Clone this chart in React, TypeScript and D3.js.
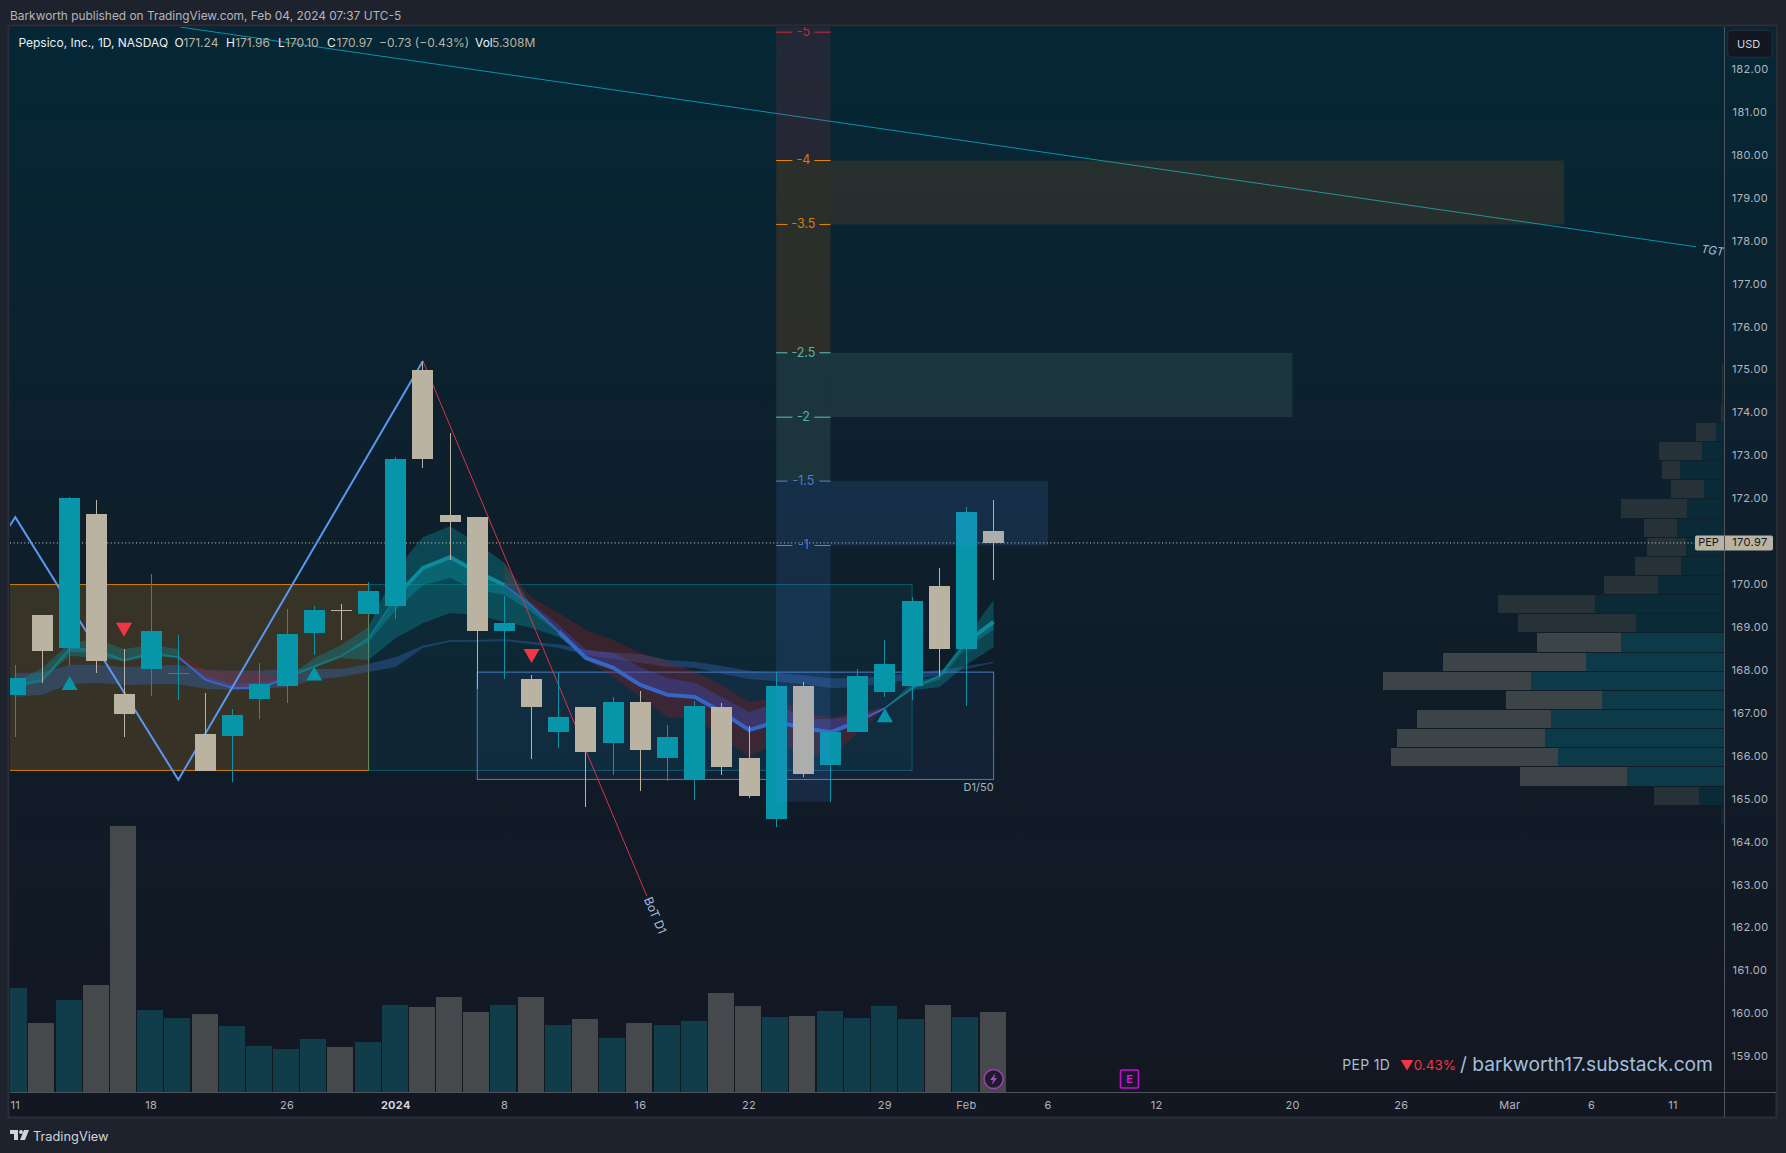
import React from 'react';
import * as d3 from 'd3';

// daily candles, Dec 11 2023 - Feb 2 2024
const opens = [167.43,169.29,168.52,171.64,167.45,168.03,167.93,166.52,166.47,167.33,167.64,168.87,169.40,169.31,169.50,175.00,171.62,171.57,168.92,167.80,166.56,167.15,166.31,167.26,165.96,165.45,167.15,165.96,164.54,167.64,165.80,166.56,167.50,167.64,169.97,168.50,171.24];
const highs = [168.13,169.29,172.04,171.97,168.50,170.25,168.82,167.47,167.10,168.17,169.43,169.50,169.55,170.06,172.97,175.21,173.53,171.57,169.73,167.89,167.96,167.15,167.38,167.52,166.73,167.29,167.24,166.70,167.96,167.73,166.56,168.03,168.71,169.71,170.39,171.81,171.96];
const lows = [166.45,167.71,168.13,167.94,166.45,167.40,167.31,165.66,165.40,166.87,167.24,168.36,168.71,169.31,169.20,172.71,170.57,167.57,167.80,165.93,166.19,164.82,165.56,165.19,165.42,164.98,165.56,165.03,164.35,165.52,164.93,166.56,167.38,167.31,167.87,167.17,170.10];
const closes = [167.82,168.45,172.02,168.22,166.98,168.92,167.94,165.66,166.96,167.68,168.85,169.41,169.39,169.85,172.92,172.92,171.46,168.92,169.10,167.15,166.91,166.10,167.26,166.14,166.45,167.17,165.75,165.07,167.64,165.59,166.56,167.87,168.15,169.62,168.50,171.69,170.97];
const volumes = [6.90,4.58,6.10,7.10,17.65,5.44,4.91,5.18,4.38,3.05,2.85,3.52,2.99,3.32,5.77,5.64,6.30,5.31,5.77,6.30,4.45,4.84,3.58,4.58,4.45,4.71,6.57,5.71,4.98,5.04,5.37,4.91,5.71,4.84,5.77,4.98,5.308];

// moving average ribbons
const slowTop = [167.94,167.95,168.13,168.13,168.08,168.10,168.13,168.01,167.99,167.99,168.03,168.03,168.03,168.15,168.31,168.58,168.71,168.71,168.73,168.67,168.61,168.48,168.41,168.38,168.24,168.20,168.10,167.99,167.94,167.89,167.82,167.82,167.87,167.94,168.01,168.10,168.20];
const slowBot = [167.38,167.43,167.68,167.71,167.66,167.68,167.68,167.57,167.54,167.57,167.61,167.78,167.85,167.96,168.08,168.52,168.66,168.67,168.68,168.61,168.52,168.36,168.27,168.17,168.08,168.06,167.92,167.80,167.75,167.68,167.59,167.61,167.71,167.78,167.89,168.03,168.17];
const fastLine = [167.66,167.78,168.52,168.48,168.24,168.41,168.31,167.78,167.59,167.59,167.82,168.10,168.34,168.755,169.71,170.39,170.64,170.29,169.99,169.50,168.90,168.29,168.06,167.66,167.43,167.38,167.03,166.61,166.80,166.66,166.56,166.80,167.12,167.59,167.87,168.66,169.13];
const n = null;
const bullTop = [167.71,168.06,168.64,168.73,168.50,168.59,168.50,n,n,n,167.82,168.29,168.59,169.01,170.34,171.11,171.36,170.97,170.50,169.50,168.90,168.29,n,n,n,n,n,n,n,n,n,n,167.12,167.71,167.89,168.78,169.64];
const bullBot = [167.61,167.78,168.34,168.29,168.22,168.36,168.29,n,n,n,167.82,168.06,168.29,168.24,168.755,169.10,169.34,169.29,169.13,168.99,168.78,168.29,n,n,n,n,n,n,n,n,n,n,167.12,167.54,167.61,168.13,168.54];
const bullInner = [167.61,167.73,168.43,168.41,168.20,168.34,168.29,n,n,n,167.82,168.06,168.34,168.66,169.41,169.99,170.15,169.87,169.76,169.36,168.87,168.29,n,n,n,n,n,n,n,n,n,n,167.12,167.57,167.78,168.54,168.94];
const bearTop = [n,n,n,n,n,n,168.36,168.01,167.96,167.94,167.82,n,n,n,n,n,n,n,170.50,169.69,169.34,168.94,168.71,168.41,168.20,167.96,167.66,167.26,167.38,167.03,166.91,167.03,167.15,n,n,n,n];
const bearBot = [n,n,n,n,n,n,168.29,167.75,167.54,167.66,167.82,n,n,n,n,n,n,n,169.99,169.50,168.90,168.24,167.85,167.38,166.91,166.89,166.45,165.98,166.31,166.08,165.98,166.54,167.12,n,n,n,n];
const bearInner = [n,n,n,n,n,n,168.31,167.87,167.68,167.73,167.82,n,n,n,n,n,n,n,169.99,169.57,169.06,168.48,168.41,168.08,167.82,167.71,167.38,167.03,167.24,166.87,166.87,166.96,167.12,n,n,n,n];

// signal markers on the chart
const markerBars = [4, 19, 2, 11, 32];
const markerPrices = [169.00, 168.39, 167.65, 167.87, 166.90];
const markerDown = [true, true, false, false, false];

// drawn lines as [bar, price] pairs
const zigzag: [number, number][] = [[-1, 170.6], [0, 171.57], [6, 165.45], [15, 175.21]];
const bearLine: [number, number][] = [[15, 175.21], [23.24, 162.74]];
const targetLine: [number, number][] = [[6.06, 182.99], [61.84, 177.87]];

// fib levels
const fibLabels = ['-1', '-1.5', '-2', '-2.5', '-3.5', '-4', '-5'];
const fibPrices = [170.91, 172.41, 173.90, 175.40, 178.39, 179.88, 182.87];
const fibColumnLow = 164.94;
const fibColumnHigh = 183.0;

// visible range volume, percent of the biggest row, lowest row first
const vpStart = 164.40;
const vpStep = 0.446;
const vpUp = [0.9,7.2,28.4,48.7,52.5,50.7,35.8,56.6,40.5,30.2,25.8,37.8,19.4,12.6,11.1,13.8,10.9,5.9,12.9,6.5,2.3,0.4,0.3,0.3];
const vpDown = [0,13.3,31.4,49.0,43.4,39.3,28.2,43.4,41.9,24.6,34.6,28.4,15.8,13.5,11.4,9.7,19.4,9.7,5.3,12.6,5.9,0.5,0.2,0.2];

const priceTicks = d3.range(159, 183);
const timeBars = [0, 5, 10, 14, 18, 23, 27, 32, 35, 38, 42, 47, 51, 55, 58, 61];
const timeLabels = ['11', '18', '26', '2024', '8', '16', '22', '29', 'Feb', '6', '12', '20', '26', 'Mar', '6', '11'];

const W = 1786;
const H = 1153;
const pane = { left: 10, top: 27, right: 1724, bottom: 1092 };
const FONT = 'Inter, "Noto Sans", sans-serif';

const TEAL = '#0795aa';
const BEIGE = '#bab3a1';
const LABEL = '#b2b5be';
const NOTE = '#a3bfd9';

const x = d3.scaleLinear().domain([0, 36]).range([15.3, 993.6]);
const y = d3.scaleLinear().domain([182, 159]).range([69.5, 1056.7]);
const volY = d3.scaleLinear().domain([0, 5.308]).range([pane.bottom, pane.bottom - 80]);
const vpX = d3.scaleLinear().domain([0, 100]).range([0, 341]);

const ribbon = (top: (number | null)[], bot: (number | null)[]) =>
  d3.area<number>()
    .defined((i) => top[i] != null && bot[i] != null)
    .x((i) => x(i))
    .y0((i) => y(bot[i] as number))
    .y1((i) => y(top[i] as number))(d3.range(37)) as string;

const pairLine = d3.line<[number, number]>().x((d) => x(d[0])).y((d) => y(d[1]));

// how the fast line is painted along its length
const fastStyles = [
  { from: 0, to: 6, color: '#0f7f8e', width: 1.2 },
  { from: 6, to: 10, color: '#3566c8', width: 2 },
  { from: 10, to: 14, color: '#0f7f8e', width: 1.2 },
  { from: 14, to: 18, color: '#0f8a9a', width: 4 },
  { from: 18, to: 20, color: '#2f62b8', width: 2 },
  { from: 20, to: 31, color: '#3566c8', width: 4 },
  { from: 31, to: 32, color: '#3566c8', width: 2 },
  { from: 32, to: 35, color: '#0f7f8e', width: 1.5 },
  { from: 35, to: 36, color: '#0f8a9a', width: 4 },
];

const BLUE_ZONE = 'rgba(80,150,255,0.13)';
const TEAL_ZONE = 'rgba(130,190,170,0.13)';
const ORANGE_COLUMN = 'rgba(255,120,10,0.14)';
const ORANGE_ZONE = 'rgba(255,130,20,0.12)';
const RED_ZONE = 'rgba(242,54,69,0.13)';

const fibStroke = (i: number) => {
  if (i < 2) return '#4d86d8';
  if (i < 4) return '#62c0ae';
  if (i < 6) return '#e68a00';
  return '#c9303f';
};

const legendParts = [
  { text: 'Pepsico, Inc., 1D, NASDAQ', at: 18.4, color: '#eceff4' },
  { text: 'O', at: 174.5, color: '#eceff4' },
  { text: '171.24', at: 183.5, color: BEIGE },
  { text: 'H', at: 226, color: '#eceff4' },
  { text: '171.96', at: 235.2, color: BEIGE },
  { text: 'L', at: 278, color: '#eceff4' },
  { text: '170.10', at: 285, color: BEIGE },
  { text: 'C', at: 327, color: '#eceff4' },
  { text: '170.97', at: 336.5, color: BEIGE },
  { text: '−0.73 (−0.43%)', at: 379, color: BEIGE },
  { text: 'Vol', at: 475, color: '#eceff4' },
  { text: '5.308M', at: 492, color: BEIGE },
];

const triangle = d3.symbol().type(d3.symbolTriangle).size(111)() as string;

export default function App() {
  const rect = (a: number, b: number, top: number, low: number) => ({
    x: x(a),
    y: y(top),
    width: x(b) - x(a),
    height: y(low) - y(top),
  });
  const last = y(closes[36]);
  const columnZones = [
    { top: fibPrices[1], low: fibColumnLow, fill: BLUE_ZONE },
    { top: fibPrices[3], low: fibPrices[1], fill: TEAL_ZONE },
    { top: fibPrices[5], low: fibPrices[3], fill: ORANGE_COLUMN },
    { top: fibColumnHigh, low: fibPrices[5], fill: RED_ZONE },
  ];

  return (
    <svg
      width={W}
      height={H}
      viewBox={`0 0 ${W} ${H}`}
      style={{ position: 'absolute', left: 0, top: 0, display: 'block' }}
      fontFamily={FONT}
    >
      <defs>
        <linearGradient id="paneBg" x1="0" y1="0" x2="0" y2="1">
          <stop offset="0" stopColor="#052735" />
          <stop offset="0.45" stopColor="#0e1f2c" />
          <stop offset="1" stopColor="#131722" />
        </linearGradient>
        <clipPath id="paneClip">
          <rect x={pane.left} y={pane.top} width={pane.right - pane.left} height={pane.bottom - pane.top} />
        </clipPath>
      </defs>

      <rect width={W} height={H} fill="#1e222d" />
      <rect x={8.5} y={25.5} width={1768} height={1092} fill="#131722" stroke="#2a2e39" strokeWidth={2} />
      <rect x={pane.left} y={pane.top} width={1766} height={pane.bottom - pane.top} fill="url(#paneBg)" />

      <text x={10} y={16.5} dominantBaseline="middle" fontSize={11.9} fill={LABEL}>
        Barkworth published on TradingView.com, Feb 04, 2024 07:37 UTC-5
      </text>

      <g clipPath="url(#paneClip)">
        {/* volume */}
        {volumes.map((v, i) => (
          <rect
            key={i}
            x={x(i) - 14}
            y={volY(v)}
            width={26}
            height={pane.bottom - volY(v)}
            fill={closes[i] >= opens[i] ? '#113d4a' : '#46494c'}
            shapeRendering="crispEdges"
          />
        ))}

        {/* visible range profile */}
        {vpUp.map((u, i) => {
          const top = y(vpStart + vpStep * (i + 1));
          const h = y(vpStart + vpStep * i) - top - 1;
          const bright = i >= 2 && i <= 9;
          return (
            <g key={i} shapeRendering="crispEdges">
              <rect
                x={pane.right - vpX(u)}
                y={top}
                width={vpX(u)}
                height={h}
                fill={bright ? '#0d3a48' : '#0b2a38'}
              />
              <rect
                x={pane.right - vpX(u + vpDown[i])}
                y={top}
                width={vpX(vpDown[i])}
                height={h}
                fill={bright ? '#3d4448' : '#263238'}
              />
            </g>
          );
        })}

        {/* boxes */}
        <rect {...rect(-1, 13, 170.0, 165.67)} fill="rgba(255,160,30,0.17)" stroke="#d77d0e" />
        <rect {...rect(13, 33, 170.0, 165.67)} fill="rgba(6,149,170,0.09)" stroke="rgba(10,147,168,0.5)" />
        <rect {...rect(17, 36, 167.96, 165.46)} fill="rgba(60,130,220,0.07)" stroke="#4a7dcc" />
        <text x={x(36)} y={y(165.46) + 9} textAnchor="end" dominantBaseline="middle" fontSize={11} fill="#a5b2c2">
          D1/50
        </text>

        {/* ribbons */}
        <path d={ribbon(slowTop, slowBot)} fill="rgba(50,105,180,0.38)" />
        <path d={ribbon(bearTop, bearBot)} fill="rgba(160,25,30,0.3)" />
        <path d={ribbon(bearInner, bearBot.map((v, i) => (v == null ? v : fastLine[i])))} fill="rgba(60,90,230,0.3)" />
        <path d={ribbon(bullTop, bullBot)} fill="rgba(8,150,160,0.34)" />
        <path d={ribbon(bullTop.map((v, i) => (v == null ? v : fastLine[i])), bullInner)} fill="rgba(8,160,175,0.34)" />
        {fastStyles.map((s, k) => (
          <path
            key={k}
            d={d3.line<number>().x((i) => x(i)).y((i) => y(fastLine[i]))(d3.range(s.from, s.to + 1)) as string}
            fill="none"
            stroke={s.color}
            strokeWidth={s.width}
          />
        ))}

        {/* last price */}
        <line x1={pane.left} x2={1695} y1={last} y2={last} stroke="#d3d4cb" strokeDasharray="1 2.6" />

        {/* drawn lines */}
        <path d={pairLine(zigzag) as string} fill="none" stroke="#5a97ee" strokeWidth={2} />
        <path d={pairLine(bearLine) as string} fill="none" stroke="#d8334a" strokeWidth={1} />
        <path d={pairLine(targetLine) as string} fill="none" stroke="#0a93a8" strokeWidth={1} />

        {/* candles */}
        {opens.map((o, i) => {
          const up = closes[i] >= o;
          const color = up ? TEAL : BEIGE;
          const top = y(Math.max(o, closes[i]));
          const bodyH = Math.max(1, y(Math.min(o, closes[i])) - top);
          return (
            <g key={i} shapeRendering="crispEdges">
              <line x1={x(i)} x2={x(i)} y1={y(highs[i])} y2={y(lows[i])} stroke={color} />
              <rect x={x(i) - 10.5} y={top} width={21} height={bodyH} fill={color} />
            </g>
          );
        })}

        {/* signals */}
        {markerBars.map((b, i) => (
          <path
            key={i}
            d={triangle}
            fill={markerDown[i] ? '#f23645' : TEAL}
            transform={`translate(${x(b)},${y(markerPrices[i])})${markerDown[i] ? ' rotate(180)' : ''}`}
          />
        ))}

        {/* fib column and zones sit over the candles */}
        {columnZones.map((z, i) => (
          <rect key={i} {...rect(28, 30, z.top, z.low)} fill={z.fill} />
        ))}
        <rect {...rect(30, 38, fibPrices[1], fibPrices[0])} fill={BLUE_ZONE} />
        <rect {...rect(30, 47, fibPrices[3], fibPrices[2])} fill={TEAL_ZONE} />
        <rect {...rect(30, 57, fibPrices[5], fibPrices[4])} fill={ORANGE_ZONE} />
        {fibLabels.map((label, i) => {
          const mid = (x(28) + x(30)) / 2;
          const gap = label.length > 2 ? 16 : 11;
          return (
            <g key={label}>
              <line x1={x(28)} x2={mid - gap} y1={y(fibPrices[i])} y2={y(fibPrices[i])} stroke={fibStroke(i)} />
              <line x1={mid + gap} x2={x(30)} y1={y(fibPrices[i])} y2={y(fibPrices[i])} stroke={fibStroke(i)} />
              <text x={mid} y={y(fibPrices[i]) + 0.5} textAnchor="middle" dominantBaseline="middle" fontSize={12.5} fill={fibStroke(i)} opacity={0.9}>
                {label}
              </text>
            </g>
          );
        })}

        {/* notes */}
        <text
          transform={`translate(${x(61.84) + 5},${y(177.87) + 6}) rotate(8)`}
          fontSize={11.5}
          fontStyle="italic"
          fill={NOTE}
        >
          TGT
        </text>
        <text
          transform={`translate(${x(23.24) - 3},${y(162.74) + 3}) rotate(67)`}
          fontSize={12}
          fill={NOTE}
        >
          BoT D1
        </text>
      </g>

      {/* legend */}
      {legendParts.map((p) => (
        <text key={p.at} x={p.at} y={43.7} dominantBaseline="middle" fontSize={12} fill={p.color}>
          {p.text}
        </text>
      ))}

      {/* event flags */}
      <g transform={`translate(${x(36)},1079)`}>
        <circle r={9.5} fill="#1f1a2e" stroke="#9c3fb5" strokeWidth={1.5} />
        <path d="M2 -6 L-3.5 1 H-0.5 L-2 6 L3.5 -1 H0.5 Z" fill="#a64dc4" />
      </g>
      <g transform={`translate(${x(41)},1079)`}>
        <rect x={-9} y={-9} width={18} height={18} rx={1} fill="#1d1530" stroke="#c010d0" strokeWidth={1.5} />
        <text textAnchor="middle" dominantBaseline="central" fontSize={11} fontWeight={600} fill="#d020e0">E</text>
      </g>

      {/* watermark */}
      <text x={1342.3} y={1066} dominantBaseline="middle" fontSize={14} letterSpacing={0.3} fill={NOTE}>PEP 1D</text>
      <text x={1400} y={1066} dominantBaseline="middle" fontSize={13.5} fill="#f23645">▼0.43%</text>
      <text x={1460} y={1066} dominantBaseline="middle" fontSize={19.2} fill={NOTE}>/ barkworth17.substack.com</text>

      {/* price axis */}
      <line x1={pane.right + 0.5} x2={pane.right + 0.5} y1={pane.top} y2={1117} stroke="#50535e" />
      {priceTicks.map((p) => (
        <text key={p} x={1750} y={y(p) + 0.5} textAnchor="middle" dominantBaseline="middle" fontSize={11} letterSpacing={0.4} fill={LABEL}>
          {p.toFixed(2)}
        </text>
      ))}
      <rect x={1727.7} y={30.3} width={44.6} height={27} rx={4} fill="#131722" stroke="#2a2e39" />
      <text x={1737} y={44.5} dominantBaseline="middle" fontSize={11} fill="#d1d4dc">USD</text>

      <rect x={1695} y={last - 7.5} width={78} height={15} rx={2} fill={BEIGE} />
      <line x1={1724.5} x2={1724.5} y1={last - 7.5} y2={last + 7.5} stroke="#50535e" />
      <text x={1708.5} y={last + 0.5} textAnchor="middle" dominantBaseline="middle" fontSize={11} fill="#131722">PEP</text>
      <text x={1750} y={last + 0.5} textAnchor="middle" dominantBaseline="middle" fontSize={11} letterSpacing={0.4} fill="#131722">
        {closes[36].toFixed(2)}
      </text>

      {/* time axis */}
      <line x1={pane.left} x2={1776} y1={pane.bottom + 0.5} y2={pane.bottom + 0.5} stroke="#50535e" />
      {timeBars.map((b, i) => (
        <text
          key={i}
          x={x(b)}
          y={1106}
          textAnchor="middle"
          dominantBaseline="middle"
          fontSize={11}
          letterSpacing={0.3}
          fontWeight={timeLabels[i] === '2024' ? 700 : 400}
          fill={timeLabels[i] === '2024' ? '#d1d4dc' : LABEL}
        >
          {timeLabels[i]}
        </text>
      ))}

      {/* footer */}
      <g fill="#d1d4dc" transform="translate(10,1130)">
        <path d="M0 0 H8 V10 H4 V4 H0 Z" />
        <circle cx={11} cy={2} r={2} />
        <path d="M14 0 H19 L15 10 H10 Z" />
      </g>
      <text x={33} y={1137} dominantBaseline="middle" fontSize={12.8} fill="#d1d4dc">TradingView</text>
    </svg>
  );
}
